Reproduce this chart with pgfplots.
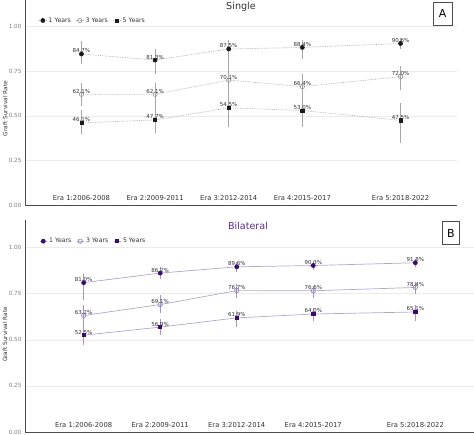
\documentclass[border=0pt]{standalone}
\usepackage{pgfplots}
\pgfplotsset{compat=1.18}
\usepackage{pgfplotstable}
\usepackage{fontspec}
\setmainfont{DejaVu Sans}

\definecolor{axgray}{HTML}{4D4D4D}
\definecolor{gridgray}{HTML}{EBEBEB}
\definecolor{tickgray}{HTML}{7F7F7F}
\definecolor{txt}{HTML}{333333}
\definecolor{ptA}{HTML}{1A1A1A}
\definecolor{openA}{HTML}{9E9E9E}
\definecolor{lineA}{HTML}{ADADAD}
\definecolor{errA}{HTML}{A6A6A6}
\definecolor{ptB}{HTML}{3B0C6B}
\definecolor{openB}{HTML}{9A88BE}
\definecolor{lineB}{HTML}{B3A6CD}
\definecolor{errB}{HTML}{A594C6}
\definecolor{titleB}{HTML}{5B2C8F}

% x = middle year of each era
\pgfplotstableread{
x y ep em p
2007 0.847 0.063 0.048 84.7
2010 0.813 0.055 0.070 81.3
2013 0.875 0.040 0.100 87.5
2016 0.884 0.036 0.057 88.4
2020 0.906 0.024 0.023 90.6
}\sOne
\pgfplotstableread{
x y ep em p
2007 0.621 0.054 0.058 62.1
2010 0.621 0.058 0.076 62.1
2013 0.701 0.065 0.086 70.1
2016 0.664 0.061 0.067 66.4
2020 0.720 0.051 0.069 72.0
}\sThree
\pgfplotstableread{
x y ep em p
2007 0.461 0.063 0.054 46.1
2010 0.477 0.058 0.068 47.7
2013 0.545 0.070 0.100 54.5
2016 0.530 0.068 0.084 53.0
2020 0.475 0.088 0.122 47.5
}\sFive
\pgfplotstableread{
x y ep em p
2007 0.810 0.042 0.085 81.0
2010 0.862 0.028 0.027 86.2
2013 0.896 0.020 0.020 89.6
2016 0.903 0.015 0.015 90.3
2020 0.918 0.012 0.015 91.8
}\bOne
\pgfplotstableread{
x y ep em p
2007 0.632 0.047 0.052 63.2
2010 0.691 0.043 0.039 69.1
2013 0.767 0.030 0.035 76.7
2016 0.766 0.020 0.030 76.6
2020 0.784 0.020 0.030 78.4
}\bThree
\pgfplotstableread{
x y ep em p
2007 0.525 0.046 0.045 52.5
2010 0.569 0.038 0.034 56.9
2013 0.619 0.030 0.040 61.9
2016 0.640 0.025 0.030 64.0
2020 0.651 0.030 0.040 65.1
}\bFive

\pgfplotsset{
  panel/.style={
    scale only axis,
    xmin=2004.7, xmax=2022.3,
    ymin=0, ymax=1.15,
    axis lines=left,
    axis line style={-, axgray, line width=0.8pt},
    major tick length=0pt,
    xtick={2007,2010,2013,2016,2020},
    xticklabels={Era 1:2006-2008,Era 2:2009-2011,Era 3:2012-2014,Era 4:2015-2017,Era 5:2018-2022},
    xticklabel style={font=\fontsize{6.8}{8}\selectfont, text=txt, anchor=south, yshift=0.5pt},
    ytick={0,0.25,0.5,0.75,1},
    yticklabel style={font=\fontsize{5.7}{7}\selectfont, text=tickgray,
      /pgf/number format/.cd, fixed, fixed zerofill, precision=2},
    /pgf/number format/assume math mode=true,
    ymajorgrids,
    major grid style={gridgray, line width=0.6pt},
    ylabel={Graft Survival Rate},
    clip=false,
    legend columns=-1,
    legend style={draw=none, fill=none, at={(0.025,0.9)}, anchor=west,
      font=\fontsize{6.2}{7}\selectfont, text=txt,
      /tikz/every even column/.append style={column sep=3pt}},
    legend image code/.code={
      \draw[mark repeat=2, mark phase=2, #1] plot coordinates {(0pt,0pt) (3.5pt,0pt) (7pt,0pt)};},
    nodes near coords={\pgfmathprintnumber[fixed,precision=1,zerofill]{\pgfplotspointmeta}\%},
    point meta=explicit,
    every node near coord/.append style={font=\fontsize{5.5}{6}\selectfont, text=txt,
      anchor=south, inner sep=0.6pt},
    error bars/y dir=both, error bars/y explicit,
  },
}

\begin{document}
\begin{tikzpicture}
\path[use as bounding box] (0pt,0pt) rectangle (474pt,435pt);

% ---------- panel A: Single ----------
\begin{axis}[panel, at={(25pt,230pt)}, anchor=south west,
    width=432pt, height=205pt,
    y label style={font=\fontsize{5.8}{7}\selectfont, text=txt,
      at={(axis description cs:-0.046,0.47)}, anchor=center},
    error bars/error bar style={solid, errA, line width=0.6pt},
    error bars/error mark options={solid, errA, mark size=1.4pt, line width=0.5pt}]
\addplot[lineA, densely dotted, line width=0.7pt, mark=*, mark size=2pt,
    mark options={solid, fill=ptA, draw=ptA}]
  table[x=x, y=y, y error plus=ep, y error minus=em, meta=p] {\sOne};
\addplot[lineA, densely dotted, line width=0.7pt, mark=o, mark size=2.2pt,
    mark options={solid, draw=openA, fill=white}]
  table[x=x, y=y, y error plus=ep, y error minus=em, meta=p] {\sThree};
\addplot[lineA, densely dotted, line width=0.7pt, mark=square*, mark size=1.6pt,
    mark options={solid, fill=ptA, draw=ptA}]
  table[x=x, y=y, y error plus=ep, y error minus=em, meta=p] {\sFive};
\legend{1 Years, 3 Years, 5 Years}
\end{axis}

% ---------- panel B: Bilateral ----------
\begin{axis}[panel, at={(25pt,3pt)}, anchor=south west,
    width=449pt, height=212pt,
    y label style={font=\fontsize{5.8}{7}\selectfont, text=txt,
      at={(axis description cs:-0.0445,0.46)}, anchor=center},
    error bars/error bar style={errB, line width=0.6pt},
    error bars/error mark options={errB, mark size=1.4pt, line width=0.5pt}]
\addplot[lineB, line width=0.7pt, mark=*, mark size=2pt,
    mark options={fill=ptB, draw=ptB}]
  table[x=x, y=y, y error plus=ep, y error minus=em, meta=p] {\bOne};
\addplot[lineB, line width=0.7pt, mark=o, mark size=2.2pt,
    mark options={draw=openB, fill=white}]
  table[x=x, y=y, y error plus=ep, y error minus=em, meta=p] {\bThree};
\addplot[lineB, line width=0.7pt, mark=square*, mark size=1.6pt,
    mark options={fill=ptB, draw=ptB}]
  table[x=x, y=y, y error plus=ep, y error minus=em, meta=p] {\bFive};
\legend{1 Years, 3 Years, 5 Years}
\end{axis}

% titles and panel tags
\node[font=\fontsize{9.6}{11}\selectfont, text=txt] at (241pt,428pt) {Single};
\node[font=\fontsize{9.6}{11}\selectfont, text=titleB] at (248pt,209pt) {Bilateral};
\draw[axgray, line width=0.6pt] (433pt,409.7pt) rectangle (452.3pt,432.3pt);
\node[font=\fontsize{11}{12}\selectfont] at (442.6pt,421pt) {A};
\draw[axgray, line width=0.6pt] (442.7pt,190.7pt) rectangle (459.3pt,213.3pt);
\node[font=\fontsize{11}{12}\selectfont] at (451pt,202pt) {B};
\end{tikzpicture}
\end{document}
